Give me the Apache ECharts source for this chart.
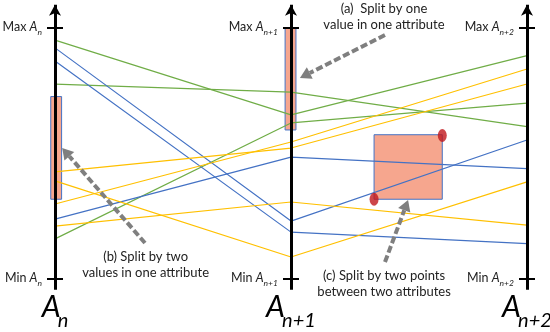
<!DOCTYPE html>
<html>
<head>
<meta charset="utf-8">
<script src="https://cdn.jsdelivr.net/npm/echarts@6/dist/echarts.min.js"></script>
<style>html,body{margin:0;padding:0;background:#fff}#c{width:550px;height:332px}</style>
</head>
<body>
<div id="c"></div>
<script>
// ---- data ----
const axisNames = ['n', 'n+1', 'n+2'];            // subscripts of A
const axisX = [0, 1, 2];                          // positions of the attributes
const maxValue = 100, minValue = 0;               // Max A / Min A ticks
const greenLines = [
  [94.9, 65.1, 88.7],
  [77.4, 74.2, 60.4],
  [15.7, 61.9, 69.8]
];
const blueLines = [
  [91.8, 22.8, 55.1],
  [86.6, 18.4, 13.8],
  [23.6, 48.3, 43.7]
];
const yellowLines = [
  [42.4, 51.9, 77.4],
  [38.8, 8.5, 38.4],
  [29.6, 54.3, 83.4],
  [20.8, 30.4, 21.2]
];
// split regions (data space): [x0, y0, x1, y1]
const splitOneValue = [0.975, 99.8, 1.021, 59.1];
const splitTwoValues = [-0.018, 72.4, 0.028, 31.5];
const splitTwoPoints = [1.352, 57.2, 1.641, 31.5];
const splitPoints = [[1.641, 56.9], [1.352, 31.5]];
const notes = {
  a: ['(a)  Split by one', 'value in one attribute'],
  b: ['(b) Split by two', 'values in one attribute'],
  c: ['(c) Split by two points', 'between two attributes']
};

// ---- chart ----
const chart = echarts.init(document.getElementById('c'));
const FONT = 'Lato';
const GREEN = '#70AD47', BLUE = '#4472C4', YELLOW = '#FFC000';
const series = [];
function addLines(arr, color) {
  arr.forEach(vals => {
    series.push({
      type: 'line', symbol: 'none', silent: true, z: 2,
      lineStyle: {color: color, width: 1.2},
      data: vals.map((v, i) => [axisX[i], v])
    });
  });
}
addLines(greenLines, GREEN);
addLines(blueLines, BLUE);
addLines(yellowLines, YELLOW);

// axes (black arrows + ticks)
const tickHalf = 0.034;
const axisMarks = [];
axisX.forEach(x => {
  axisMarks.push([{coord: [x, -4.6]}, {coord: [x, 109]}]);
});
const tickMarks = [];
axisX.forEach((x, i) => {
  tickMarks.push([{coord: [x - tickHalf, maxValue], label: {formatter: 'Max {i|A}{s|' + axisNames[i] + '}'}}, {coord: [x + tickHalf, maxValue]}]);
  tickMarks.push([{coord: [x - tickHalf, minValue], label: {formatter: 'Min {i|A}{s|' + axisNames[i] + '}'}}, {coord: [x + tickHalf, minValue]}]);
});
series.push({
  type: 'line', data: [], silent: true, z: 3,
  markLine: {
    silent: true, animation: false,
    symbol: ['none', 'arrow'], symbolSize: [9, 11],
    lineStyle: {color: '#000', width: 3, type: 'solid'},
    label: {show: false},
    data: axisMarks
  }
});
series.push({
  type: 'line', data: [], silent: true, z: 3,
  markLine: {
    silent: true, animation: false,
    symbol: ['none', 'none'],
    lineStyle: {color: '#000', width: 2, type: 'solid'},
    label: {
      show: true, position: 'start', distance: 5,
      fontFamily: FONT, fontSize: 12.5, color: '#222',
      rich: {
        i: {fontFamily: FONT, fontSize: 12.5, fontStyle: 'italic', color: '#222', lineHeight: 18, verticalAlign: 'middle'},
        s: {fontFamily: FONT, fontSize: 8.5, fontStyle: 'italic', color: '#222', lineHeight: 18, verticalAlign: 'bottom'}
      }
    },
    data: tickMarks
  }
});
// split rectangles
function rectArea(r) { return [{coord: [r[0], r[1]]}, {coord: [r[2], r[3]]}]; }
series.push({
  type: 'line', data: [], silent: true, z: 5,
  markArea: {
    silent: true, animation: false,
    itemStyle: {color: 'rgba(240,112,72,0.62)', borderColor: BLUE, borderWidth: 1},
    data: [rectArea(splitOneValue), rectArea(splitTwoValues), rectArea(splitTwoPoints)]
  }
});
series.push({
  type: 'scatter', silent: true, z: 6, symbol: 'circle', symbolSize: [9, 13],
  itemStyle: {color: '#C0161C'},
  data: splitPoints
});

chart.setOption({
  animation: false,
  backgroundColor: '#fff',
  grid: {left: 7.8, right: 1.76, top: 2.2, bottom: 41.15},
  xAxis: {type: 'value', min: -0.2, max: 2.09, show: false},
  yAxis: {type: 'value', min: -5, max: 110, show: false},
  series: series
});

// ---- annotations (text + dashed arrows) ----
function px(x, y) { return chart.convertToPixel({gridIndex: 0}, [x, y]); }
const graphics = [];
const mctx = document.createElement('canvas').getContext('2d');
function textWidth(t, font) { mctx.font = font; return mctx.measureText(t).width; }
function textBlock(lines, cx, y, size) {
  lines.forEach((t, k) => {
    graphics.push({
      type: 'text', z: 10, silent: true,
      style: {text: t, x: cx, y: y + k * 15.5, fill: '#222', font: size + 'px ' + FONT, textAlign: 'center', textVerticalAlign: 'middle'}
    });
  });
}
function dashedArrow(x1, y1, x2, y2) {
  const dx = x2 - x1, dy = y2 - y1, L = Math.hypot(dx, dy);
  const ux = dx / L, uy = dy / L;
  const hl = 11, hw = 6.5;
  const bx = x2 - ux * hl, by = y2 - uy * hl;
  graphics.push({type: 'line', z: 9, silent: true,
    shape: {x1: x1, y1: y1, x2: bx, y2: by},
    style: {stroke: '#7F7F7F', lineWidth: 4, lineDash: [7, 3]}});
  graphics.push({type: 'polygon', z: 9, silent: true,
    shape: {points: [[x2, y2], [bx - uy * hw, by + ux * hw], [bx + uy * hw, by - ux * hw]]},
    style: {fill: '#7F7F7F'}});
}
// big axis names: italic A with lowered subscript
const bigFont = 'italic 30px ' + FONT, subFont = 'italic 20px ' + FONT;
axisX.forEach((x, i) => {
  const p = px(x, 0);
  const sw = textWidth(axisNames[i], subFont);
  const left = p[0] - (16 + sw) / 2;
  graphics.push({type: 'text', z: 10, silent: true,
    style: {text: 'A', x: left, y: 307, font: bigFont, fill: '#000', textAlign: 'left', textVerticalAlign: 'middle'}});
  graphics.push({type: 'text', z: 10, silent: true,
    style: {text: axisNames[i], x: left + 16, y: 320.5, font: subFont, fill: '#000', textAlign: 'left', textVerticalAlign: 'middle'}});
});
const rA = px(splitOneValue[2], splitOneValue[1]);
textBlock(notes.a, rA[0] + 88, 9, 13);
dashedArrow(rA[0] + 89, 35, rA[0] + 4, 78);
const rB = px(splitTwoValues[2], splitTwoValues[1]);
textBlock(notes.b, rB[0] + 84, 257, 13);
dashedArrow(145, 243, rB[0] + 0.5, 148);
const rC = px(splitTwoPoints[0], splitTwoPoints[3]);
textBlock(notes.c, rC[0] + 10, 276, 13);
dashedArrow(385, 262, rC[0] + 34, 200);
chart.setOption({graphic: graphics});
</script>
</body>
</html>
